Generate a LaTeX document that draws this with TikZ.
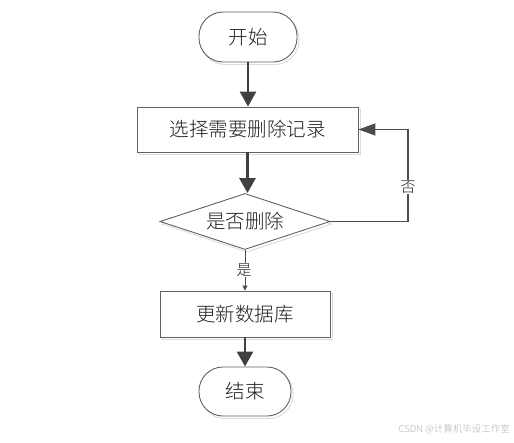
\documentclass[tikz,border=0pt]{standalone}
\usepackage{fontspec}
\setmainfont{Noto Sans CJK SC}[UprightFont={* Light}]
\usetikzlibrary{arrows.meta,shapes.geometric,shadows}
\begin{document}
\begin{tikzpicture}[x=1pt,y=-1pt,
  shp/.style={draw=black!62, line width=0.9pt, fill=white, text=black!88,
    font=\fontsize{19.5}{22}\selectfont, inner sep=0pt,
    copy shadow={shadow xshift=2pt, shadow yshift=-2.5pt, draw=black!14, fill=white, line width=0.9pt}},
  term/.style={shp, rounded corners=24pt},
  boxn/.style={shp, rectangle},
  dian/.style={shp, diamond, aspect=3},
  thick arr/.style={draw=black!75, line width=2.8pt, -{Triangle[length=15pt,width=16pt]}},
  loop arr/.style={draw=black!70, line width=1.4pt, -{Triangle[length=17pt,width=12pt]}},
  thin arr/.style={draw=black!70, line width=0.9pt, -{Triangle[length=5pt,width=5pt]}},
  lbl/.style={fill=white, inner sep=1pt, text=black!88, font=\fontsize{15}{17}\selectfont}
]
\useasboundingbox (0,0) rectangle (514,442);
\node[term, minimum width=98pt, minimum height=50pt] (start) at (248,37) {开始};
\node[boxn, minimum width=221pt, minimum height=45pt] (sel) at (247.5,129.5) {选择需要删除记录};
\node[dian, minimum width=170pt, minimum height=56pt] (dec) at (245,221.5) {是否删除};
\node[boxn, minimum width=170pt, minimum height=46pt] (upd) at (245,314) {更新数据库};
\node[term, minimum width=92pt, minimum height=49pt] (stop) at (245,391.5) {结束};
\coordinate (loopc) at (408,129.5);

\draw[thick arr] (start.south) -- (start.south |- sel.north);
\draw[thick arr] (sel.south) -- (sel.south |- dec.north);
\draw[loop arr] (dec.east) -| (loopc) -- (sel.east);
\node[lbl] (no) at (408,187) {否};
\draw[thin arr] (dec.south) -- (upd.north);
\node[lbl] (yes) at (244,270) {是};
\draw[thick arr] (upd.south) -- (stop.north);

\node[anchor=east, text=black!30, font=\fontsize{9.5}{10}\selectfont, inner sep=0pt] (wm) at (510,429) {CSDN @计算机毕设工作室};
\end{tikzpicture}
\end{document}
